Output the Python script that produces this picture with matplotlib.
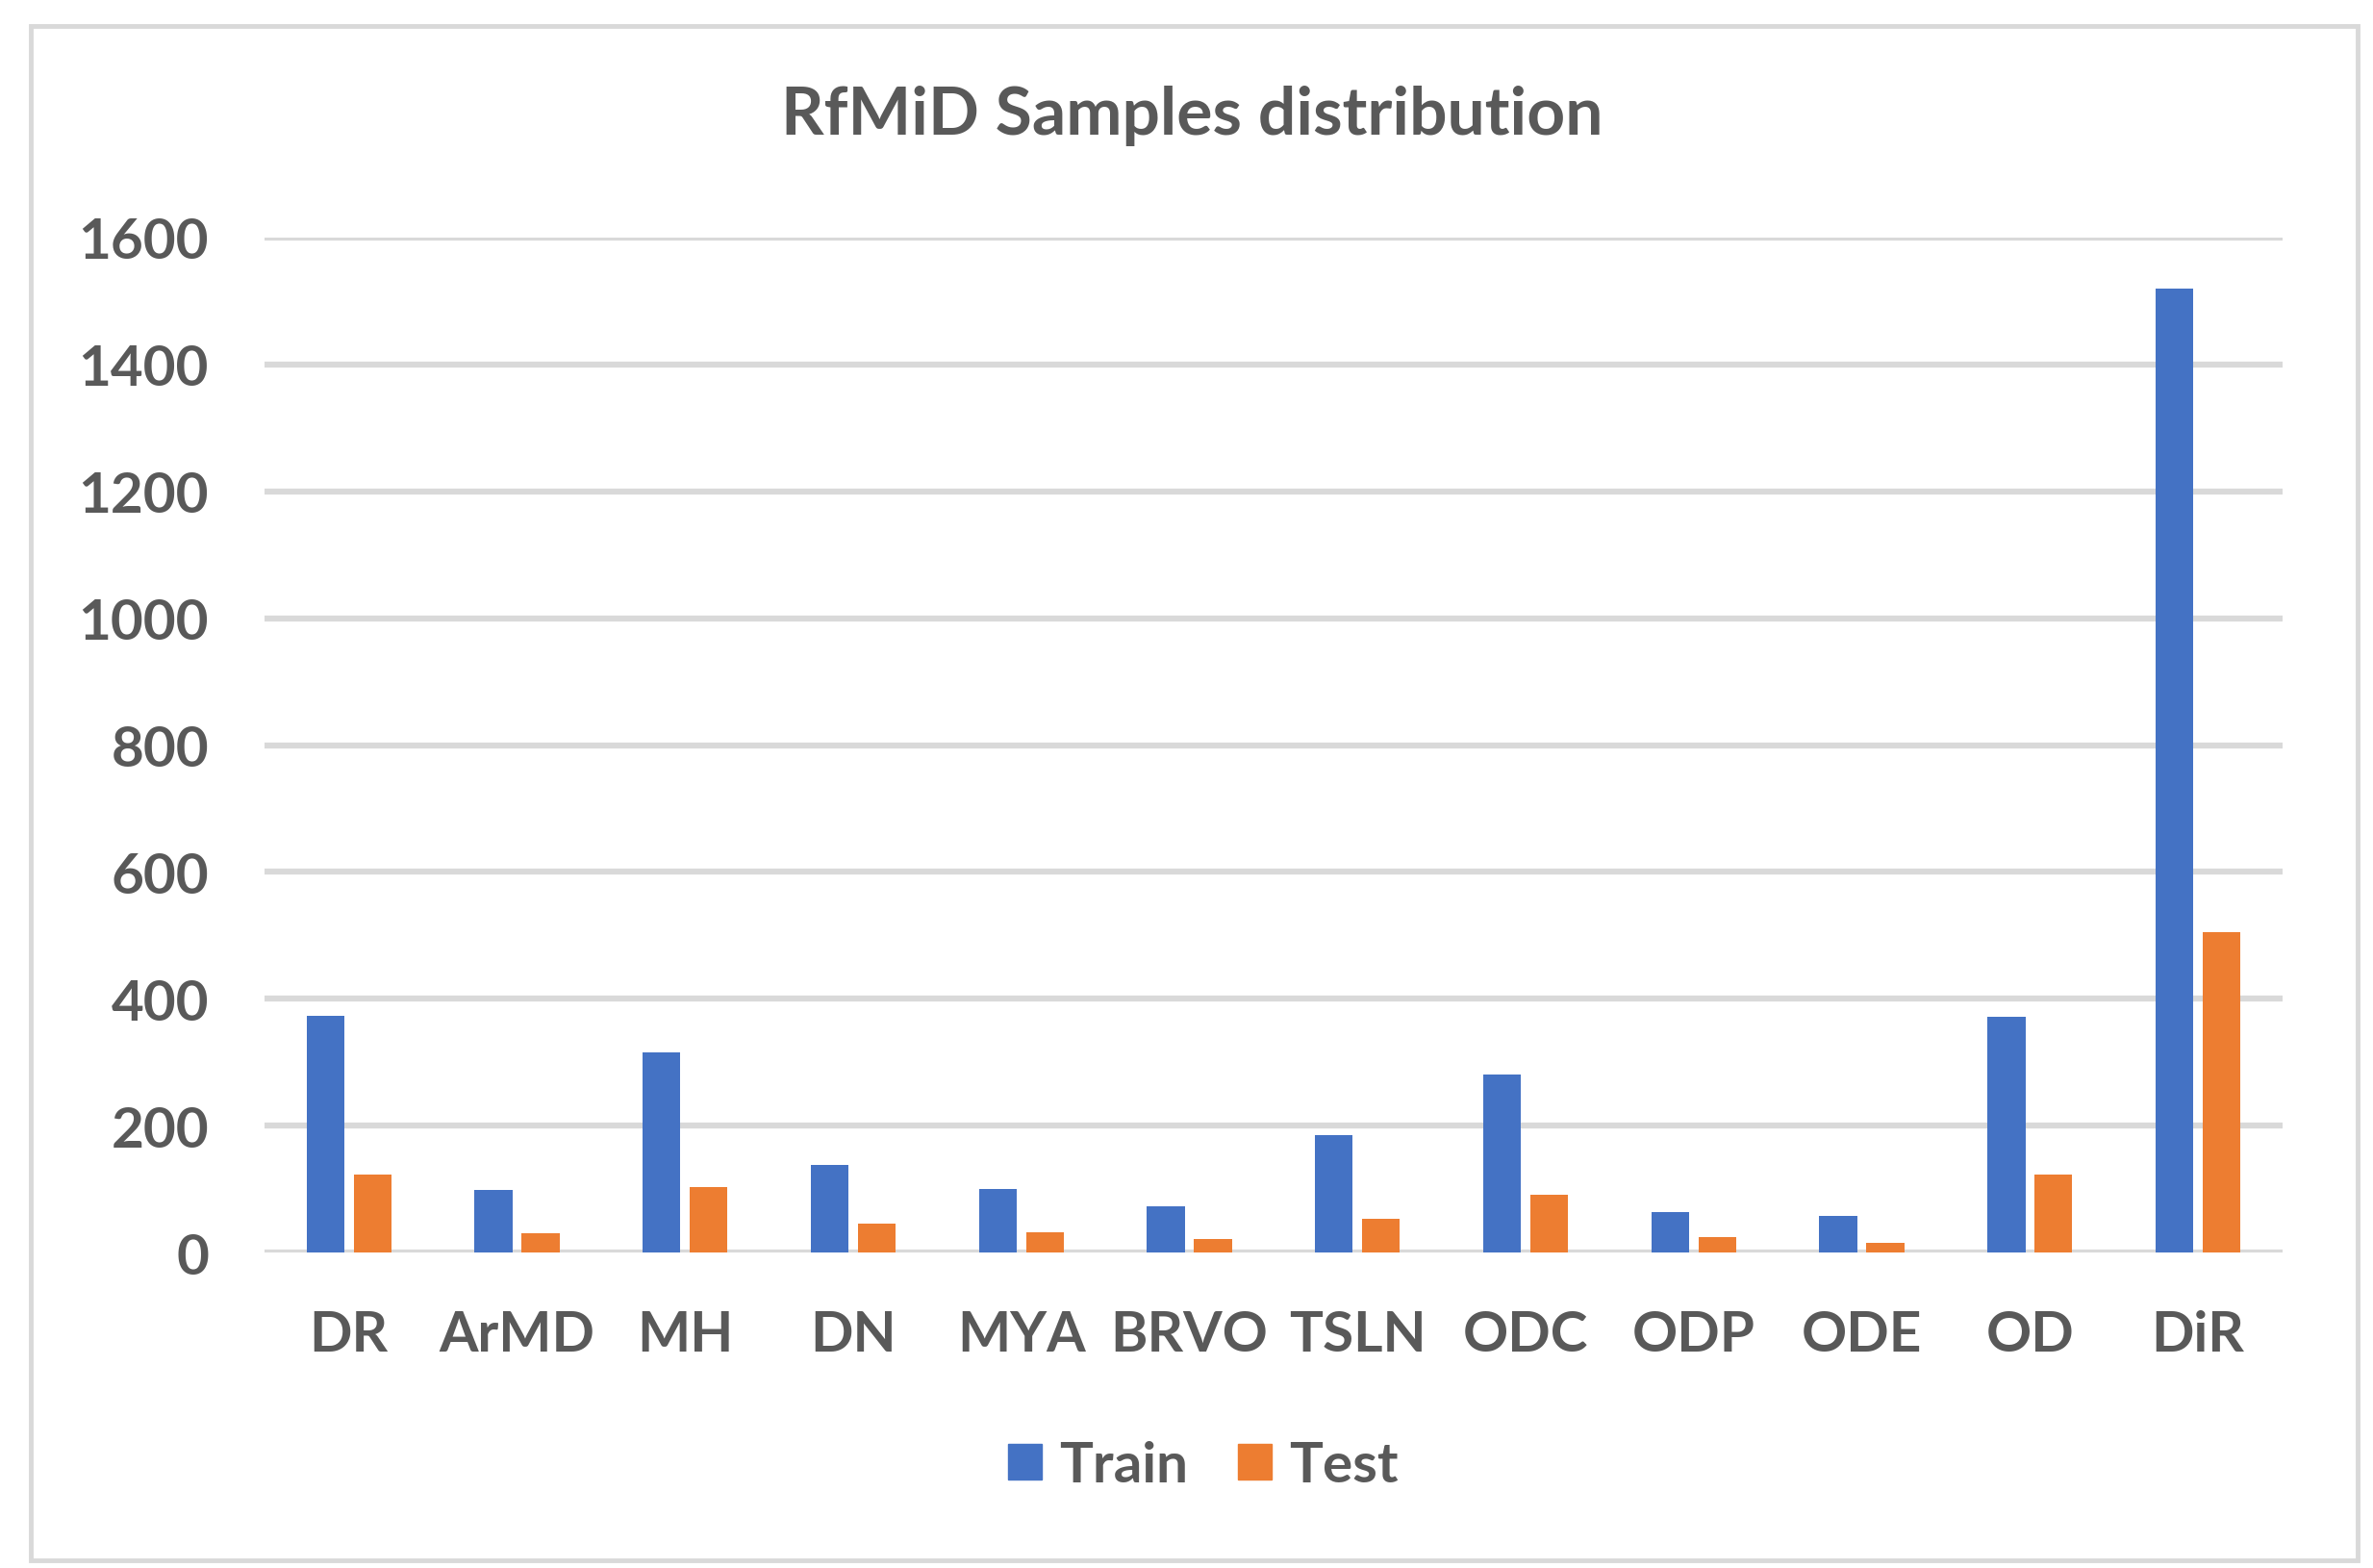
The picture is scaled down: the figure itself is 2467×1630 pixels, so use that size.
import matplotlib
matplotlib.use("Agg")
import matplotlib.pyplot as plt
import numpy as np
from matplotlib.patches import Rectangle, Patch

categories = ["DR", "ArMD", "MH", "DN", "MYA", "BRVO", "TSLN", "ODC", "ODP", "ODE", "OD", "DiR"]
train = [374, 99, 316, 138, 101, 73, 185, 281, 64, 58, 371, 1519]
test = [123, 30, 104, 45, 32, 22, 53, 91, 24, 16, 123, 505]
yticks = [0, 200, 400, 600, 800, 1000, 1200, 1400, 1600]

blue = "#4472C4"
orange = "#ED7D31"
text_color = "#595959"
grid_color = "#D9D9D9"

plt.rcParams["font.family"] = ["Lato", "DejaVu Sans"]
plt.rcParams["font.weight"] = "bold"

fig = plt.figure(figsize=(24.67, 16.31), dpi=100)
ax = fig.add_axes([0.1116, 0.201, 0.8501, 0.647])

x = np.arange(len(categories))
w = 0.225
ax.bar(x - 0.14, train, w, color=blue, label="Train", zorder=3)
ax.bar(x + 0.14, test, w, color=orange, label="Test", zorder=3)

ax.set_xlim(-0.5, len(categories) - 0.5)
ax.set_ylim(0, 1600)
ax.set_yticks(yticks)
ax.set_yticklabels([str(t) for t in yticks])
ax.set_xticks(x)
ax.set_xticklabels(categories)
ax.tick_params(axis="both", length=0, labelsize=42, labelcolor=text_color)
ax.tick_params(axis="x", pad=42)
ax.tick_params(axis="y", pad=42)
for lab in ax.get_xticklabels() + ax.get_yticklabels():
    lab.set_fontweight("bold")

ax.yaxis.grid(True, color=grid_color, linewidth=4.5, zorder=0)
ax.set_axisbelow(True)
for s in ax.spines.values():
    s.set_visible(False)

fig.text(0.5025, 0.926, "RfMiD Samples distribution", ha="center", va="center",
         fontsize=50, fontweight="bold", color=text_color)

handles = [Patch(color=blue), Patch(color=orange)]
leg = fig.legend(handles, ["Train", "Test"], loc="center", bbox_to_anchor=(0.507, 0.065),
                 ncol=2, frameon=False, fontsize=42, handlelength=0.6, handleheight=0.6,
                 handletextpad=0.3, columnspacing=0.9)
for t in leg.get_texts():
    t.set_color(text_color)
    t.set_fontweight("bold")

# light gray frame round the whole chart
fig.patches.append(Rectangle((0.0128, 0.005), 0.9808, 0.9777, transform=fig.transFigure,
                             fill=False, edgecolor=grid_color, linewidth=3.5, zorder=0))

fig.savefig("out.png", dpi=100, facecolor="white")
